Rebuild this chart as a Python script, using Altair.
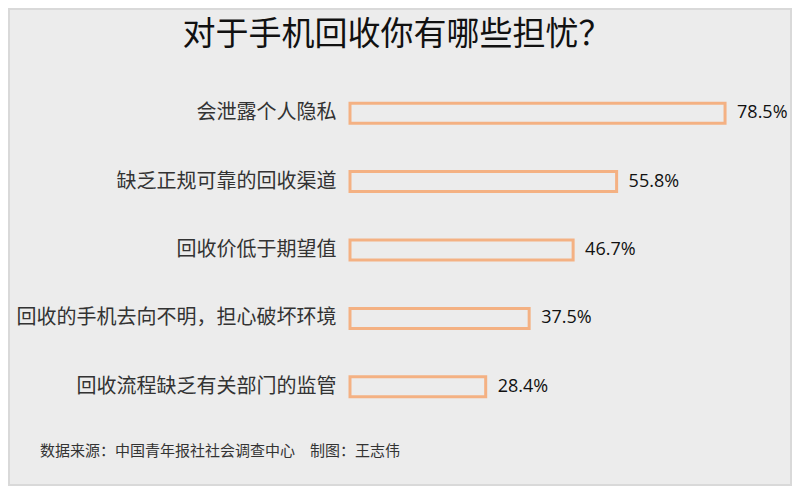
import altair as alt
import pandas as pd

categories = ["会泄露个人隐私", "缺乏正规可靠的回收渠道", "回收价低于期望值",
              "回收的手机去向不明，担心破坏环境", "回收流程缺乏有关部门的监管"]
values = [78.5, 55.8, 46.7, 37.5, 28.4]
title_text = "对于手机回收你有哪些担忧？"
footer_text = "数据来源：中国青年报社社会调查中心\u3000制图：王志伟"

df = pd.DataFrame({"cat": categories, "val": values})
df["label"] = [f"{v:.1f}%" for v in values]

CJK = "Noto Sans CJK SC"
y_enc = alt.Y("cat:N", sort=categories, title=None,
              axis=alt.Axis(ticks=False, domain=False, labelPadding=14,
                            labelFont=CJK, labelFontSize=20, labelColor="#333333",
                            labelLimit=400))
x_enc = alt.X("val:Q", scale=alt.Scale(domain=[0, 90], nice=False), axis=None, title=None)

bars = alt.Chart(df).mark_bar(size=20, fill="#ececec", stroke="#f4b183", strokeWidth=3).encode(
    x=x_enc, y=y_enc)

vals = alt.Chart(df).mark_text(align="left", baseline="middle", dx=12, font="Open Sans",
                               fontSize=18, color="#111111").encode(
    x="val:Q", y=alt.Y("cat:N", sort=categories), text="label:N")

title = alt.Chart(pd.DataFrame({"t": [title_text]})).mark_text(
    align="center", baseline="middle", font=CJK, fontSize=33, color="#111111").encode(
    x=alt.value(47), y=alt.value(-44), text="t:N")

footer = alt.Chart(pd.DataFrame({"t": [footer_text]})).mark_text(
    align="left", baseline="middle", font=CJK, fontSize=15, color="#333333").encode(
    x=alt.value(-310), y=alt.value(372), text="t:N")

border = alt.Chart(pd.DataFrame({"a": [0]})).mark_rect(
    fill="transparent", stroke="#d9d9d9", strokeWidth=2).encode(
    x=alt.value(-341), x2=alt.value(441), y=alt.value(-70), y2=alt.value(406))

chart = alt.layer(bars, vals, title, footer, border).properties(
    width=430, height=342,
    autosize=alt.AutoSizeParams(type="none"),
    padding={"left": 342, "top": 71, "right": 12, "bottom": 65},
    background="#ececec",
).configure_view(stroke=None)

chart.save("out.html", embed_options={"renderer": "svg", "actions": False})
